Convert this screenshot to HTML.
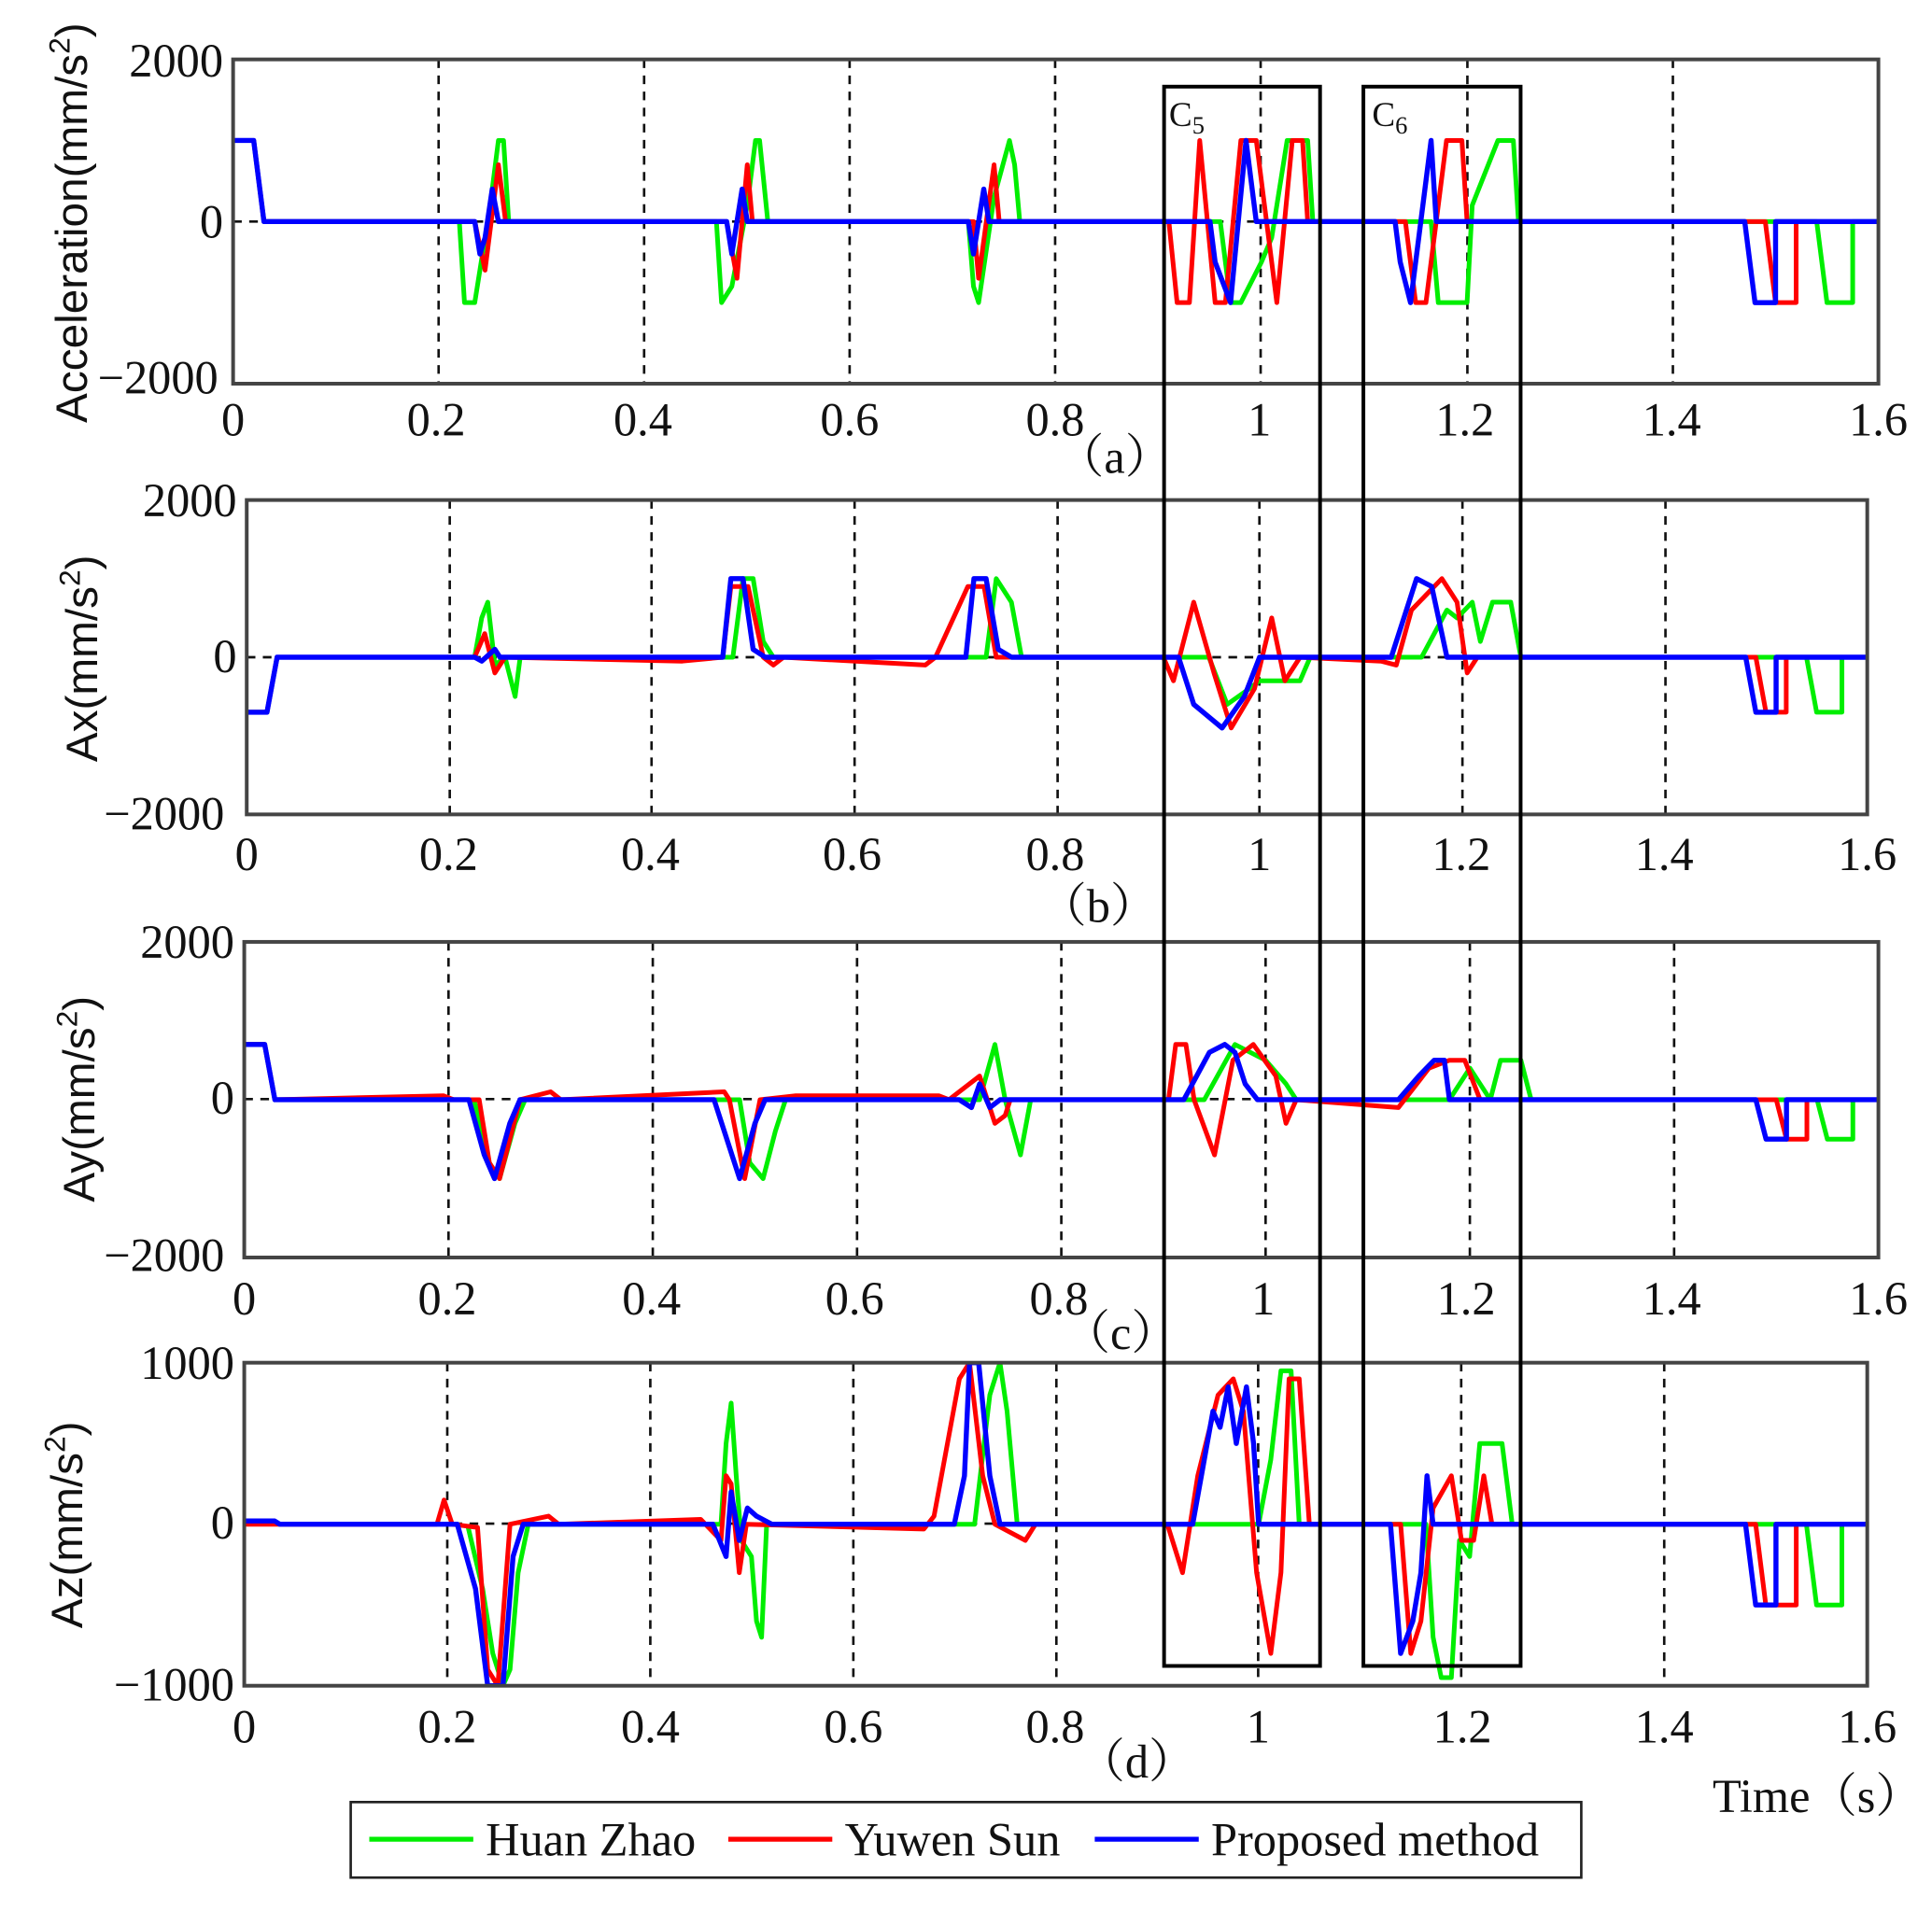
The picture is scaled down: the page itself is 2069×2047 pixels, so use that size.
<!DOCTYPE html>
<html><head><meta charset="utf-8"><style>
html,body{margin:0;padding:0;background:#fff;}
svg{display:block;}
text{font-family:"Liberation Serif","Noto Serif CJK SC",serif;fill:#111;}
.tk{font-size:38px;}
.yl{font-size:36px;font-family:"Liberation Sans",sans-serif;}
.g{fill:none;stroke:#00ee00;stroke-width:5;vector-effect:non-scaling-stroke;stroke-linejoin:round}
.r{fill:none;stroke:#ff0000;stroke-width:5;vector-effect:non-scaling-stroke;stroke-linejoin:round}
.b{fill:none;stroke:#0000ff;stroke-width:5.4;vector-effect:non-scaling-stroke;stroke-linejoin:round}
.grid line{stroke:#111;stroke-width:2;stroke-dasharray:7,6;}
.frame{fill:none;stroke:#444;stroke-width:3}
</style></head><body>
<svg width="2069" height="2047" viewBox="0 0 1560 1544" xmlns="http://www.w3.org/2000/svg">
<rect width="1560" height="1544" fill="#fff"/>

<!-- grids -->
<g class="grid">
<line x1="354" y1="48" x2="354" y2="310"/><line x1="520" y1="48" x2="520" y2="310"/><line x1="686" y1="48" x2="686" y2="310"/><line x1="852" y1="48" x2="852" y2="310"/><line x1="1018" y1="48" x2="1018" y2="310"/><line x1="1185" y1="48" x2="1185" y2="310"/><line x1="1351" y1="48" x2="1351" y2="310"/><line x1="188" y1="179" x2="1517" y2="179"/>
<line x1="363" y1="404" x2="363" y2="658"/><line x1="526" y1="404" x2="526" y2="658"/><line x1="690" y1="404" x2="690" y2="658"/><line x1="854" y1="404" x2="854" y2="658"/><line x1="1017" y1="404" x2="1017" y2="658"/><line x1="1181" y1="404" x2="1181" y2="658"/><line x1="1345" y1="404" x2="1345" y2="658"/><line x1="199" y1="531" x2="1508" y2="531"/>
<line x1="362" y1="761" x2="362" y2="1016"/><line x1="527" y1="761" x2="527" y2="1016"/><line x1="692" y1="761" x2="692" y2="1016"/><line x1="857" y1="761" x2="857" y2="1016"/><line x1="1022" y1="761" x2="1022" y2="1016"/><line x1="1187" y1="761" x2="1187" y2="1016"/><line x1="1352" y1="761" x2="1352" y2="1016"/><line x1="197" y1="888" x2="1517" y2="888"/>
<line x1="361" y1="1101" x2="361" y2="1362"/><line x1="525" y1="1101" x2="525" y2="1362"/><line x1="689" y1="1101" x2="689" y2="1362"/><line x1="853" y1="1101" x2="853" y2="1362"/><line x1="1016" y1="1101" x2="1016" y2="1362"/><line x1="1180" y1="1101" x2="1180" y2="1362"/><line x1="1344" y1="1101" x2="1344" y2="1362"/><line x1="197" y1="1231" x2="1508" y2="1231"/>
</g>

<!-- Panel a -->
<svg x="188" y="48" width="1329" height="262" viewBox="0 -2000 1600 4000" preserveAspectRatio="none">
<polyline class="g" points="0,-1000 20,-1000 30,0 220,0 225,1000 235,1000 250,-200 258,-1000 263,-1000 268,0 470,0 475,1000 485,800 500,-200 508,-1000 512,-1000 520,0 715,0 720,800 725,1000 740,-300 755,-1000 760,-700 765,0 960,0 970,1000 980,1000 1000,500 1010,200 1025,-1000 1045,-1000 1050,0 1165,0 1172,1000 1200,1000 1205,-200 1230,-1000 1245,-1000 1250,0 1540,0 1550,1000 1575,1000 1575,0 1600,0"/>
<polyline class="r" points="0,-1000 20,-1000 30,0 235,0 245,600 258,-700 265,0 480,0 490,700 500,-700 505,0 720,0 725,700 740,-700 745,0 910,0 918,1000 930,1000 940,-1000 955,1000 965,1000 980,-1000 995,-1000 1015,1000 1030,-1000 1040,-1000 1045,0 1140,0 1150,1000 1160,1000 1180,-1000 1195,-1000 1200,0 1490,0 1500,1000 1520,1000 1520,0"/>
<polyline class="b" points="0,-1000 20,-1000 30,0 235,0 240,400 245,200 252,-400 258,0 480,0 485,400 490,0 495,-400 500,0 715,0 720,400 730,-400 735,0 950,0 955,500 970,1000 985,-1000 995,0 1130,0 1135,500 1145,1000 1165,-1000 1170,0 1470,0 1480,1000 1500,1000 1500,0 1600,0"/>
</svg>
<rect class="frame" x="188" y="48" width="1329" height="262"/>

<!-- Panel b -->
<svg x="199" y="404" width="1309" height="254" viewBox="0 -2000 1600 4000" preserveAspectRatio="none">
<polyline class="g" points="0,700 20,700 30,0 225,0 232,-500 238,-700 245,100 255,0 265,500 270,0 480,0 490,-1000 500,-1000 510,-200 520,0 730,0 740,-1000 755,-700 765,0 950,0 968,600 990,400 1000,300 1040,300 1050,0 1160,0 1185,-600 1195,-500 1210,-700 1218,-200 1230,-700 1248,-700 1258,0 1540,0 1550,700 1575,700 1575,0"/>
<polyline class="r" points="0,700 20,700 30,0 225,0 235,-300 245,200 255,0 430,50 470,0 478,-900 495,-900 510,0 520,100 530,0 670,100 680,0 712,-900 728,-900 740,0 905,0 915,300 935,-700 955,200 972,900 995,400 1012,-500 1025,300 1040,0 1120,50 1135,100 1150,-600 1180,-1000 1195,-700 1205,200 1215,0 1490,0 1500,700 1520,700 1520,0"/>
<polyline class="b" points="0,700 20,700 30,0 225,0 232,50 245,-100 250,0 470,0 478,-1000 490,-1000 500,-100 512,0 710,0 718,-1000 730,-1000 742,-100 755,0 920,0 935,600 963,900 985,500 1000,0 1130,0 1155,-1000 1170,-900 1185,0 1480,0 1490,700 1510,700 1510,0 1600,0"/>
</svg>
<rect class="frame" x="199" y="404" width="1309" height="254"/>

<!-- Panel c -->
<svg x="197" y="761" width="1320" height="255" viewBox="0 -2000 1600 4000" preserveAspectRatio="none">
<polyline class="g" points="0,-700 20,-700 30,0 225,0 240,800 250,1000 265,300 275,0 485,0 495,800 508,1000 520,400 530,0 720,0 735,-700 745,0 760,700 770,0 940,0 970,-700 1000,-500 1020,-200 1030,0 1180,0 1200,-400 1210,-200 1220,0 1230,-500 1250,-500 1260,0 1540,0 1550,500 1575,500 1575,0"/>
<polyline class="r" points="0,-700 20,-700 30,0 195,-50 205,0 230,0 240,800 250,1000 270,0 300,-100 310,0 470,-100 475,0 490,1000 505,0 540,-50 680,-50 690,0 720,-300 735,300 745,200 750,0 780,0 905,0 912,-700 922,-700 930,0 950,700 968,-500 988,-700 1010,-300 1020,300 1030,0 1130,100 1160,-400 1180,-500 1195,-500 1210,0 1500,0 1510,500 1530,500 1530,0"/>
<polyline class="b" points="0,-700 20,-700 30,0 220,0 235,700 245,1000 260,300 270,0 460,0 475,600 485,1000 500,300 510,0 700,0 712,100 720,-200 730,100 740,0 920,0 945,-600 960,-700 970,-600 980,-200 992,0 1130,0 1150,-300 1165,-500 1175,-500 1180,0 1480,0 1490,500 1510,500 1510,0 1600,0"/>
</svg>
<rect class="frame" x="197" y="761" width="1320" height="255"/>

<!-- Panel d -->
<svg x="197" y="1101" width="1311" height="261" viewBox="0 -1000 1600 2000" preserveAspectRatio="none">
<polyline class="g" points="220,0 235,400 245,800 255,1000 262,900 270,300 280,0 470,0 475,-500 480,-750 485,-300 490,100 500,200 505,600 510,700 515,0 720,0 735,-800 745,-1000 752,-700 762,0 980,0 1000,0 1012,-400 1022,-950 1032,-950 1040,0 1165,0 1172,700 1180,950 1190,950 1198,100 1208,200 1218,-500 1240,-500 1250,0 1540,0 1550,500 1575,500 1575,0"/>
<polyline class="r" points="0,0 190,0 197,-150 205,0 230,20 240,900 250,1000 262,0 300,-50 310,0 450,-30 470,100 475,-300 480,-250 488,300 495,0 670,30 680,-50 705,-900 715,-1000 728,-300 740,0 770,100 780,0 910,0 925,300 940,-300 960,-800 975,-900 985,-700 998,300 1012,800 1022,300 1030,-900 1040,-900 1050,0 1140,0 1150,800 1160,600 1172,-100 1190,-300 1200,100 1212,100 1222,-300 1230,0 1490,0 1500,500 1530,500 1530,0"/>
<polyline class="b" points="0,-20 30,-20 35,0 210,0 228,400 240,1000 255,1000 265,200 275,0 462,0 475,200 480,-200 488,100 496,-100 505,-50 520,0 700,0 710,-300 715,-1000 724,-1000 735,-300 745,0 920,0 935,0 955,-700 962,-600 970,-850 978,-500 988,-850 995,-500 1000,0 1130,0 1140,800 1152,600 1160,300 1166,-300 1172,0 1480,0 1490,500 1510,500 1510,0 1600,0"/>
</svg>
<rect class="frame" x="197" y="1101" width="1311" height="261"/>

<!-- C5 / C6 boxes -->
<rect x="940" y="70" width="126" height="1276" fill="none" stroke="#000" stroke-width="3"/>
<rect x="1101" y="70" width="127" height="1276" fill="none" stroke="#000" stroke-width="3"/>
<text x="944" y="102" style="font-size:28px">C<tspan dy="6" style="font-size:20px">5</tspan></text>
<text x="1108" y="102" style="font-size:28px">C<tspan dy="6" style="font-size:20px">6</tspan></text>

<!-- Y tick labels -->
<g class="tk" text-anchor="end">
<text x="180" y="62">2000</text><text x="180" y="192">0</text><text x="176" y="318">−2000</text>
<text x="191" y="417">2000</text><text x="191" y="543">0</text><text x="181" y="670">−2000</text>
<text x="189" y="774">2000</text><text x="189" y="900">0</text><text x="181" y="1027">−2000</text>
<text x="189" y="1114">1000</text><text x="189" y="1243">0</text><text x="189" y="1374">−1000</text>
</g>
<!-- X tick labels -->
<g class="tk" text-anchor="middle">
<text x="188" y="352">0</text><text x="352" y="352">0.2</text><text x="519" y="352">0.4</text><text x="686" y="352">0.6</text><text x="852" y="352">0.8</text><text x="1017" y="352">1</text><text x="1183" y="352">1.2</text><text x="1350" y="352">1.4</text><text x="1517" y="352">1.6</text>
<text x="199" y="703">0</text><text x="362" y="703">0.2</text><text x="525" y="703">0.4</text><text x="688" y="703">0.6</text><text x="852" y="703">0.8</text><text x="1017" y="703">1</text><text x="1180" y="703">1.2</text><text x="1344" y="703">1.4</text><text x="1508" y="703">1.6</text>
<text x="197" y="1062">0</text><text x="361" y="1062">0.2</text><text x="526" y="1062">0.4</text><text x="690" y="1062">0.6</text><text x="855" y="1062">0.8</text><text x="1020" y="1062">1</text><text x="1184" y="1062">1.2</text><text x="1350" y="1062">1.4</text><text x="1517" y="1062">1.6</text>
<text x="197" y="1408">0</text><text x="361" y="1408">0.2</text><text x="525" y="1408">0.4</text><text x="689" y="1408">0.6</text><text x="852" y="1408">0.8</text><text x="1016" y="1408">1</text><text x="1181" y="1408">1.2</text><text x="1344" y="1408">1.4</text><text x="1508" y="1408">1.6</text>
</g>
<!-- subplot labels -->
<g class="tk" text-anchor="middle">
<text x="900" y="382">（a）</text><text x="887" y="745">（b）</text><text x="905" y="1090">（c）</text><text x="918" y="1436">（d）</text>
</g>
<text class="tk" x="1383" y="1464">Time（s）</text>

<!-- Y axis titles -->
<text class="yl" transform="translate(70,180) rotate(-90)" text-anchor="middle">Acceleration(mm/s<tspan dy="-14" style="font-size:24px">2</tspan><tspan dy="14">)</tspan></text>
<text class="yl" transform="translate(78,532) rotate(-90)" text-anchor="middle">Ax(mm/s<tspan dy="-14" style="font-size:24px">2</tspan><tspan dy="14">)</tspan></text>
<text class="yl" transform="translate(76,888) rotate(-90)" text-anchor="middle">Ay(mm/s<tspan dy="-14" style="font-size:24px">2</tspan><tspan dy="14">)</tspan></text>
<text class="yl" transform="translate(66,1232) rotate(-90)" text-anchor="middle">Az(mm/s<tspan dy="-14" style="font-size:24px">2</tspan><tspan dy="14">)</tspan></text>

<!-- Legend -->
<rect x="283" y="1456" width="994" height="61" fill="#fff" stroke="#222" stroke-width="2"/>
<line x1="298" y1="1486" x2="382" y2="1486" stroke="#00ee00" stroke-width="4"/>
<text class="tk" x="392" y="1499">Huan Zhao</text>
<line x1="588" y1="1486" x2="672" y2="1486" stroke="#ff0000" stroke-width="4"/>
<text class="tk" x="682" y="1499">Yuwen Sun</text>
<line x1="884" y1="1486" x2="968" y2="1486" stroke="#0000ff" stroke-width="4"/>
<text class="tk" x="978" y="1499">Proposed method</text>
</svg>
</body></html>
